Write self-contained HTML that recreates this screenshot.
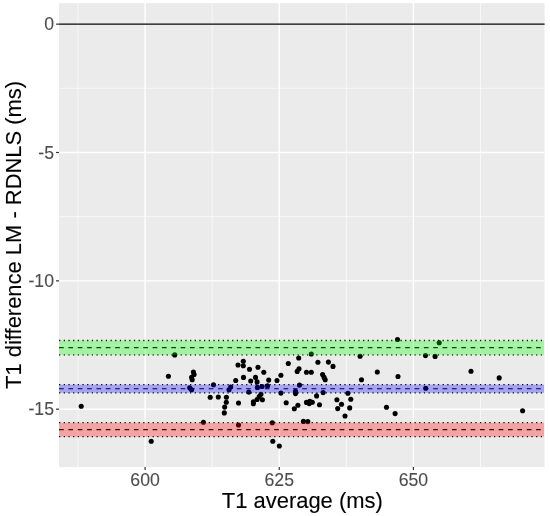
<!DOCTYPE html>
<html lang="en"><head><meta charset="utf-8"><title>T1 Bland-Altman</title>
<style>
html,body{margin:0;padding:0;background:#fff;}
body{width:550px;height:516px;overflow:hidden;}
svg{display:block;}
text{font-family:"Liberation Sans",Arial,Helvetica,sans-serif;}
.tick{font-size:17.7px;fill:#4d4d4d;stroke:#4d4d4d;stroke-width:0.1px;}
.title{font-size:21.94px;fill:#000;stroke:#000;stroke-width:0.12px;}
</style></head><body>
<svg width="550" height="516" viewBox="0 0 550 516">
<rect x="0" y="0" width="550" height="516" fill="#ffffff"/>
<rect x="59.05" y="3.1" width="485.55" height="464.0" fill="#ebebeb"/>
<g stroke="#ffffff" fill="none">
<line x1="78.03" x2="78.03" y1="3.1" y2="467.1" stroke-width="0.6"/>
<line x1="212.17" x2="212.17" y1="3.1" y2="467.1" stroke-width="0.6"/>
<line x1="346.32" x2="346.32" y1="3.1" y2="467.1" stroke-width="0.6"/>
<line x1="480.48" x2="480.48" y1="3.1" y2="467.1" stroke-width="0.6"/>
<line x1="59.05" x2="544.6" y1="88.33" y2="88.33" stroke-width="0.6"/>
<line x1="59.05" x2="544.6" y1="216.68" y2="216.68" stroke-width="0.6"/>
<line x1="59.05" x2="544.6" y1="345.02" y2="345.02" stroke-width="0.6"/>
<line x1="145.10" x2="145.10" y1="3.1" y2="467.1" stroke-width="1.35"/>
<line x1="279.25" x2="279.25" y1="3.1" y2="467.1" stroke-width="1.35"/>
<line x1="413.40" x2="413.40" y1="3.1" y2="467.1" stroke-width="1.35"/>
<line x1="59.05" x2="544.6" y1="24.15" y2="24.15" stroke-width="1.35"/>
<line x1="59.05" x2="544.6" y1="152.50" y2="152.50" stroke-width="1.35"/>
<line x1="59.05" x2="544.6" y1="280.85" y2="280.85" stroke-width="1.35"/>
<line x1="59.05" x2="544.6" y1="409.20" y2="409.20" stroke-width="1.35"/>
</g>
<g fill="#000000">
<circle cx="81.2" cy="406.3" r="2.55"/>
<circle cx="151.2" cy="441.2" r="2.55"/>
<circle cx="168.4" cy="376.3" r="2.55"/>
<circle cx="174.7" cy="354.9" r="2.55"/>
<circle cx="193.4" cy="372.0" r="2.55"/>
<circle cx="194.1" cy="374.5" r="2.55"/>
<circle cx="191.6" cy="377.4" r="2.55"/>
<circle cx="192.2" cy="379.8" r="2.55"/>
<circle cx="189.7" cy="387.7" r="2.55"/>
<circle cx="191.6" cy="389.8" r="2.55"/>
<circle cx="213.5" cy="384.8" r="2.55"/>
<circle cx="210.2" cy="397.2" r="2.55"/>
<circle cx="218.3" cy="397.0" r="2.55"/>
<circle cx="203.4" cy="422.3" r="2.55"/>
<circle cx="243.3" cy="361.3" r="2.55"/>
<circle cx="238.0" cy="365.0" r="2.55"/>
<circle cx="243.3" cy="365.8" r="2.55"/>
<circle cx="249.5" cy="369.3" r="2.55"/>
<circle cx="258.0" cy="367.3" r="2.55"/>
<circle cx="263.8" cy="372.3" r="2.55"/>
<circle cx="243.5" cy="377.4" r="2.55"/>
<circle cx="235.7" cy="380.5" r="2.55"/>
<circle cx="255.5" cy="377.4" r="2.55"/>
<circle cx="250.7" cy="381.0" r="2.55"/>
<circle cx="257.1" cy="381.9" r="2.55"/>
<circle cx="268.7" cy="380.1" r="2.55"/>
<circle cx="230.7" cy="387.1" r="2.55"/>
<circle cx="229.0" cy="389.8" r="2.55"/>
<circle cx="257.4" cy="387.4" r="2.55"/>
<circle cx="262.1" cy="386.5" r="2.55"/>
<circle cx="267.5" cy="385.9" r="2.55"/>
<circle cx="248.8" cy="392.1" r="2.55"/>
<circle cx="226.4" cy="397.2" r="2.55"/>
<circle cx="260.9" cy="394.2" r="2.55"/>
<circle cx="259.2" cy="396.6" r="2.55"/>
<circle cx="257.1" cy="399.5" r="2.55"/>
<circle cx="262.4" cy="399.8" r="2.55"/>
<circle cx="253.4" cy="401.9" r="2.55"/>
<circle cx="253.4" cy="403.8" r="2.55"/>
<circle cx="226.3" cy="402.2" r="2.55"/>
<circle cx="224.7" cy="407.1" r="2.55"/>
<circle cx="224.3" cy="412.9" r="2.55"/>
<circle cx="238.5" cy="403.0" r="2.55"/>
<circle cx="238.5" cy="425.0" r="2.55"/>
<circle cx="272.3" cy="422.8" r="2.55"/>
<circle cx="272.8" cy="441.2" r="2.55"/>
<circle cx="279.3" cy="446.0" r="2.55"/>
<circle cx="311.3" cy="354.0" r="2.55"/>
<circle cx="298.7" cy="358.0" r="2.55"/>
<circle cx="288.3" cy="363.5" r="2.55"/>
<circle cx="317.9" cy="362.3" r="2.55"/>
<circle cx="299.0" cy="368.7" r="2.55"/>
<circle cx="297.2" cy="371.4" r="2.55"/>
<circle cx="306.5" cy="372.3" r="2.55"/>
<circle cx="311.3" cy="372.3" r="2.55"/>
<circle cx="280.9" cy="375.2" r="2.55"/>
<circle cx="322.6" cy="374.5" r="2.55"/>
<circle cx="324.1" cy="377.4" r="2.55"/>
<circle cx="325.2" cy="379.8" r="2.55"/>
<circle cx="277.0" cy="380.5" r="2.55"/>
<circle cx="299.5" cy="385.1" r="2.55"/>
<circle cx="280.9" cy="393.1" r="2.55"/>
<circle cx="295.5" cy="391.3" r="2.55"/>
<circle cx="295.5" cy="393.6" r="2.55"/>
<circle cx="323.1" cy="392.6" r="2.55"/>
<circle cx="316.6" cy="395.9" r="2.55"/>
<circle cx="286.2" cy="402.7" r="2.55"/>
<circle cx="306.5" cy="402.4" r="2.55"/>
<circle cx="309.8" cy="401.3" r="2.55"/>
<circle cx="309.2" cy="403.6" r="2.55"/>
<circle cx="312.3" cy="402.2" r="2.55"/>
<circle cx="319.5" cy="404.8" r="2.55"/>
<circle cx="297.9" cy="405.3" r="2.55"/>
<circle cx="294.3" cy="408.8" r="2.55"/>
<circle cx="303.4" cy="421.4" r="2.55"/>
<circle cx="307.8" cy="421.6" r="2.55"/>
<circle cx="360.1" cy="356.3" r="2.55"/>
<circle cx="328.4" cy="362.1" r="2.55"/>
<circle cx="333.0" cy="366.4" r="2.55"/>
<circle cx="377.3" cy="372.0" r="2.55"/>
<circle cx="361.5" cy="379.8" r="2.55"/>
<circle cx="347.9" cy="393.3" r="2.55"/>
<circle cx="336.9" cy="399.8" r="2.55"/>
<circle cx="350.8" cy="399.3" r="2.55"/>
<circle cx="341.5" cy="404.2" r="2.55"/>
<circle cx="337.7" cy="408.6" r="2.55"/>
<circle cx="349.7" cy="407.9" r="2.55"/>
<circle cx="345.0" cy="416.0" r="2.55"/>
<circle cx="397.5" cy="339.5" r="2.55"/>
<circle cx="439.2" cy="342.7" r="2.55"/>
<circle cx="425.5" cy="355.6" r="2.55"/>
<circle cx="435.1" cy="356.4" r="2.55"/>
<circle cx="398.0" cy="376.5" r="2.55"/>
<circle cx="425.7" cy="388.2" r="2.55"/>
<circle cx="386.5" cy="407.2" r="2.55"/>
<circle cx="395.1" cy="413.6" r="2.55"/>
<circle cx="471.0" cy="371.3" r="2.55"/>
<circle cx="499.2" cy="377.9" r="2.55"/>
<circle cx="522.6" cy="410.8" r="2.55"/>
</g>
<line x1="59.05" x2="544.6" y1="24.15" y2="24.15" stroke="#000" stroke-width="1.2"/>
<line x1="59.05" x2="544.6" y1="340.5" y2="340.5" stroke="#000" stroke-width="1.3" stroke-dasharray="1.25 3.427"/>
<line x1="59.05" x2="544.6" y1="354.9" y2="354.9" stroke="#000" stroke-width="1.3" stroke-dasharray="1.25 3.427"/>
<line x1="59.05" x2="544.6" y1="347.7" y2="347.7" stroke="#000" stroke-width="1.17" stroke-dasharray="4.677 4.677"/>
<line x1="59.05" x2="544.6" y1="384.65" y2="384.65" stroke="#000" stroke-width="1.3" stroke-dasharray="1.25 3.427"/>
<line x1="59.05" x2="544.6" y1="392.8" y2="392.8" stroke="#000" stroke-width="1.3" stroke-dasharray="1.25 3.427"/>
<line x1="59.05" x2="544.6" y1="388.75" y2="388.75" stroke="#000" stroke-width="1.17" stroke-dasharray="4.677 4.677"/>
<line x1="59.05" x2="544.6" y1="422.7" y2="422.7" stroke="#000" stroke-width="1.3" stroke-dasharray="1.25 3.427"/>
<line x1="59.05" x2="544.6" y1="436.7" y2="436.7" stroke="#000" stroke-width="1.3" stroke-dasharray="1.25 3.427"/>
<line x1="59.05" x2="544.6" y1="429.55" y2="429.55" stroke="#000" stroke-width="1.17" stroke-dasharray="4.677 4.677"/>
<rect x="59.05" y="340.5" width="484.95" height="14.399999999999977" fill="#00ff00" fill-opacity="0.3"/>
<rect x="59.05" y="384.65" width="484.95" height="8.150000000000034" fill="#0000ff" fill-opacity="0.3"/>
<rect x="59.05" y="422.7" width="484.95" height="14.0" fill="#ff0000" fill-opacity="0.3"/>
<g stroke="#333333" stroke-width="1.2">
<line x1="56" x2="59.05" y1="24.15" y2="24.15"/>
<line x1="56" x2="59.05" y1="152.50" y2="152.50"/>
<line x1="56" x2="59.05" y1="280.85" y2="280.85"/>
<line x1="56" x2="59.05" y1="409.20" y2="409.20"/>
<line x1="145.10" x2="145.10" y1="467.1" y2="470.1"/>
<line x1="279.25" x2="279.25" y1="467.1" y2="470.1"/>
<line x1="413.40" x2="413.40" y1="467.1" y2="470.1"/>
</g>
<text class="tick" x="54" y="30.30" text-anchor="end">0</text>
<text class="tick" x="54" y="158.65" text-anchor="end">-5</text>
<text class="tick" x="54" y="287.00" text-anchor="end">-10</text>
<text class="tick" x="54" y="415.35" text-anchor="end">-15</text>
<text class="tick" x="145.10" y="485.5" text-anchor="middle">600</text>
<text class="tick" x="279.25" y="485.5" text-anchor="middle">625</text>
<text class="tick" x="413.40" y="485.5" text-anchor="middle">650</text>
<text class="title" x="302.3" y="507.9" text-anchor="middle">T1 average (ms)</text>
<text class="title" transform="translate(21.0,234.9) rotate(-90)" text-anchor="middle">T1 difference LM - RDNLS (ms)</text>
</svg></body></html>
